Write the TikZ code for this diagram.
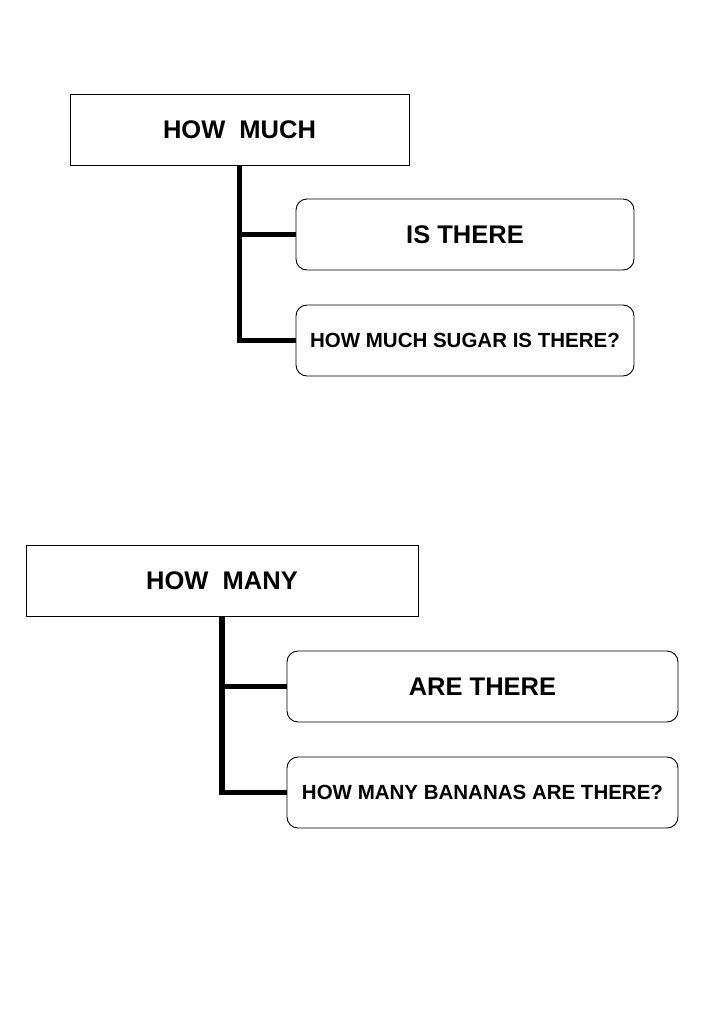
\documentclass[tikz,border=0pt]{standalone}
\usepackage{fontspec}
\setmainfont{Liberation Sans}
\begin{document}
\begin{tikzpicture}
  [x=1pt,y=-1pt,every node/.style={draw,line width=.9pt,inner sep=0pt,font=\bfseries},
   head/.style={minimum height=71pt,font=\fontsize{25.5}{28}\bfseries\selectfont},
   part/.style={rounded corners=11pt,minimum width=338pt,minimum height=71pt,font=\fontsize{25.5}{28}\bfseries\selectfont},
   example/.style={part,font=\fontsize{20.5}{24}\bfseries\selectfont}]
\useasboundingbox (0,0) rectangle (705,1018);
\node (much)[head,minimum width=339pt] at (239.5,129.5) {HOW\ \ MUCH};
  \node (is)[part] at (465,234.5) {IS THERE};
  \node (sugar)[example] at (465,340.5) {HOW MUCH SUGAR IS THERE?};
\node (many)[head,minimum width=392pt] at (222,581) {HOW\ \ MANY};
  \node (are)[part,minimum width=391pt] at (482.5,686.5) {ARE THERE};
  \node (bananas)[example,minimum width=391pt] at (482.5,792.5) {HOW MANY BANANAS ARE THERE?};
 \foreach \from/\to in {much/is,much/sugar,many/are,many/bananas}
    \draw[line width=5.5pt] (\from.south) |- (\to.west);

\end{tikzpicture}
\end{document}
